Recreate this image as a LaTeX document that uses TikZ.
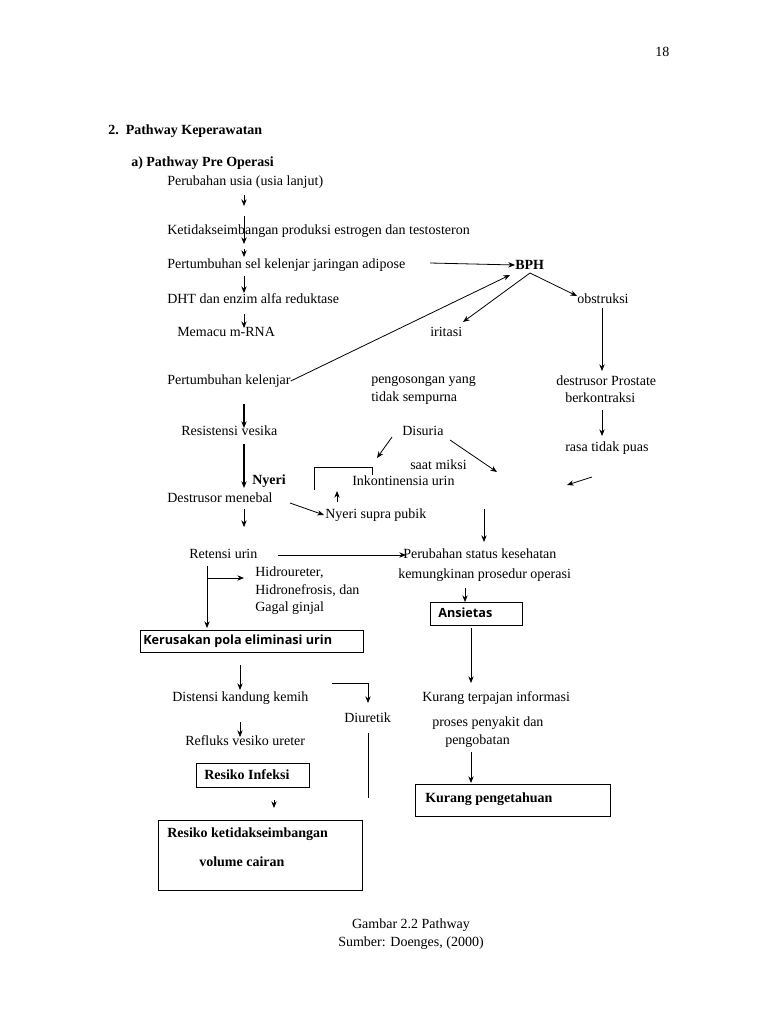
\documentclass[tikz,border=0pt]{standalone}
\usepackage{fontspec}
\setmainfont{Liberation Serif}
\newfontfamily\sansb{Open Sans}
\usetikzlibrary{arrows.meta}
\begin{document}
\begin{tikzpicture}[x=0.75pt,y=-0.75pt,
  t/.style={anchor=west,inner sep=0pt,font=\fontsize{10.5}{12}\selectfont},
  tb/.style={t,font=\fontsize{10.5}{12}\selectfont\bfseries},
  ar/.style={-{Stealth[length=5pt,width=4pt]},line width=0.6pt},
  ln/.style={line width=0.6pt},
  bx/.style={draw,line width=0.8pt,anchor=north west,inner sep=0pt}]
\useasboundingbox (0,0) rectangle (768,1024);
\node[t] (pg) at (655,52) {18};
\node[tb] (h1) at (108,131) {2.\ \ Pathway Keperawatan};
\node[tb] (h2) at (131,163) {a) Pathway Pre Operasi};
\node[t] (n1) at (167,182) {Perubahan usia (usia lanjut)};
\node[t] (n2) at (167,231) {Ketidakseimbangan produksi estrogen dan testosteron};
\node[t] (n3) at (167,265) {Pertumbuhan sel kelenjar jaringan adipose};
\node[tb] (bph) at (515,265) {BPH};
\node[t] (n4) at (167,299) {DHT dan enzim alfa reduktase};
\node[t] (n5) at (177,332) {Memacu m-RNA};
\node[t] (n6) at (167,381) {Pertumbuhan kelenjar};
\node[t] (obs) at (577,299) {obstruksi};
\node[t] (iri) at (430,332) {iritasi};
\node[t] (pg1) at (371,381) {pengosongan yang};
\node[t] (pg2) at (371,398) {tidak sempurna};
\node[t] (dp1) at (556,381) {destrusor Prostate};
\node[t] (dp2) at (565,398) {berkontraksi};
\node[t] (rtp) at (565,448) {rasa tidak puas};
\node[t] (dis) at (402,431) {Disuria};
\node[t] (sm) at (410,465) {saat miksi};
\node[t] (ink) at (352,481) {Inkontinensia urin};
\node[t] (res) at (181,431) {Resistensi vesika};
\node[tb] (ny) at (252,481) {Nyeri};
\node[t] (dm) at (167,498) {Destrusor menebal};
\node[t] (nsp) at (325,515) {Nyeri supra pubik};
\node[t] (ret) at (189,554) {Retensi urin};
\node[t] (ps1) at (403,554) {Perubahan status kesehatan};
\node[t] (ps2) at (398,575) {kemungkinan prosedur operasi};
\node[t] (hd1) at (255,573) {Hidroureter,};
\node[t] (hd2) at (255,591) {Hidronefrosis, dan};
\node[t] (hd3) at (255,608) {Gagal ginjal};
\node[bx,minimum width=223*0.75pt,minimum height=22*0.75pt] (kp) at (140,630) {};
\node[anchor=west,inner sep=0pt,font=\sansb\fontsize{9.5}{11}\selectfont\bfseries] at (143,641) {Kerusakan pola eliminasi urin};
\node[bx,minimum width=92*0.75pt,minimum height=23*0.75pt] (ans) at (430,602) {};
\node[anchor=west,inner sep=0pt,font=\sansb\fontsize{9.5}{11}\selectfont\bfseries] at (438,613) {Ansietas};
\node[t] (kt1) at (422,698) {Kurang terpajan informasi};
\node[t] (kt2) at (432,723) {proses penyakit dan};
\node[t] (kt3) at (445,741) {pengobatan};
\node[bx,minimum width=195*0.75pt,minimum height=32*0.75pt] (kpg) at (415,784) {};
\node[tb] at (425,799) {Kurang pengetahuan};
\node[t] (dk) at (172,698) {Distensi kandung kemih};
\node[t] (diu) at (344,718) {Diuretik};
\node[t] (ref) at (185,741) {Refluks vesiko ureter};
\node[bx,minimum width=113*0.75pt,minimum height=24*0.75pt] (ri) at (196,763) {};
\node[tb] at (204,775) {Resiko Infeksi};
\node[bx,minimum width=204*0.75pt,minimum height=70*0.75pt] (rk) at (158,820) {};
\node[tb] at (167,834) {Resiko ketidakseimbangan};
\node[tb] at (199,862) {volume cairan};
\node[anchor=center,inner sep=0pt,font=\fontsize{10.5}{12}\selectfont] (c1) at (411,925) {Gambar 2.2 Pathway};
\node[anchor=center,inner sep=0pt,font=\fontsize{10.5}{12}\selectfont] (c2) at (411,943) {Sumber: Doenges, (2000)};
% left chain
\draw[ar] (244,195) -- (244,206);
\draw[ar] (244,216) -- (244,244);
\draw[ar] (244,249) -- (244,257);
\draw[ar] (244,276) -- (244,293);
\draw[ar] (244,314) -- (244,328);
\draw[ar,line width=0.9pt] (244,404) -- (244,428);
\draw[ar,line width=0.9pt] (244,444) -- (244,488);
\draw[ar] (244,509) -- (244,527);
\draw[ar] (430,263) -- (bph.west);
\draw[ar] (n6.east) -- (510,275);
\draw[ar] (530,273) -- (577,296);
\draw[ar] (530,273) -- (463,322);
\draw[ar] (602,308) -- (602,371);
\draw[ar] (602,410) -- (602,436);
\draw[ar] (592,477) -- (567,485);
\draw[ar] (392,437) -- (377,458);
\draw[ar] (450,440) -- (497,472);
\draw[ln] (372,475) -- (372,467) -- (314,467) -- (314,490);
\draw[ar] (337,502) -- (337,491);
\draw[ar] (290,503) -- (324,515);
\draw[ar] (484,509) -- (484,542);
\draw[ar] (278,555) -- (406,555);
\draw[ln] (207,566) -- (207,610);
\draw[ar] (207,578) -- (244,578);
\draw[ar] (207,606) -- (207,628);
\draw[ar] (465,588) -- (465,602);
\draw[ar] (471,628) -- (471,683);
\draw[ar] (471,752) -- (471,783);
\draw[ar] (240,665) -- (240,690);
\draw[ar] (332,683) -- (368,683) -- (368,703);
\draw[ln] (368,733) -- (368,798);
\draw[ar] (240,722) -- (240,737);
\draw[ar] (274,800) -- (274,808);
\end{tikzpicture}
\end{document}
